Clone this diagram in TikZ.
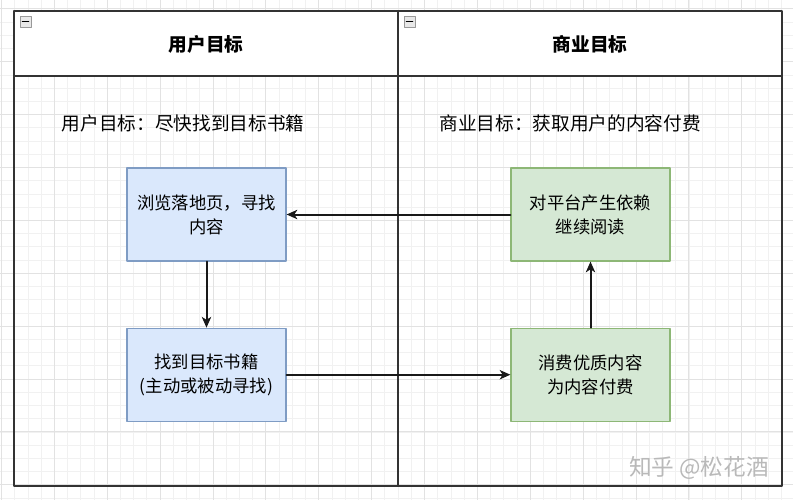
\documentclass[tikz,border=0pt]{standalone}
\usepackage{fontspec}
\setmainfont{Noto Sans CJK SC}
\usetikzlibrary{positioning, arrows.meta}
\definecolor{userfill}{HTML}{DAE8FC}
\definecolor{userline}{HTML}{7F9CC4}
\definecolor{bizfill}{HTML}{D5E8D4}
\definecolor{bizline}{HTML}{8DB776}
\definecolor{gridminor}{HTML}{F1F1F1}
\definecolor{gridmajor}{HTML}{E2E2E2}
\newcommand{\foldicon}{
  \draw[gray!80, fill = gray!18] (0, 0) rectangle (11, 11);
  \draw[black, line width = 1.2pt] (2.5, 5.5) -- (8.5, 5.5);}

\begin{document}
\begin{tikzpicture}[x = 0.75pt, y = -0.75pt, line cap = round, line join = round,
  goalbox/.style = {draw, line width = 0.9pt, minimum width = 119.25pt,
    minimum height = 69.75pt, align = center,
    font = \fontsize{13}{18}\selectfont},
  userbox/.style = {goalbox, fill = userfill, draw = userline},
  bizbox/.style = {goalbox, fill = bizfill, draw = bizline},
  flow/.style = {line width = 1.5pt, black!90,
    >={Stealth[length = 8pt, width = 7pt, inset = 2.2pt]}, ->}]
  \useasboundingbox (0, 0) rectangle (793, 500);

  % background grid
  \foreach \i in {0, ..., 61} {
    \draw[gridminor, line width = 0.5pt] ({1.4 + \i * 13.22}, 0) -- +(0, 500);}
  \foreach \j in {0, ..., 38} {
    \draw[gridminor, line width = 0.5pt] (0, {-4.4 + \j * 13.22}) -- +(793, 0);}
  \foreach \i in {0, ..., 15} {
    \draw[gridmajor, line width = 0.6pt] ({1.4 + \i * 52.88}, 0) -- +(0, 500);}
  \foreach \j in {0, ..., 9} {
    \draw[gridmajor, line width = 0.6pt] (0, {8.8 + \j * 52.88}) -- +(793, 0);}

  % swimlanes
  \fill[white] (14, 11) rectangle (782, 76);
  \draw[line width = 1.4pt, black!80] (14, 11) rectangle (782, 486);
  \draw[line width = 1.4pt, black!80] (14, 76) -- (782, 76);
  \draw[line width = 1.4pt, black!80] (398, 11) -- (398, 486);

  \begin{scope}[shift = {(20, 16)}]
    \foldicon
  \end{scope}
  \begin{scope}[shift = {(404, 16)}]
    \foldicon
  \end{scope}

  \node[font = \fontsize{14}{17}\selectfont\bfseries] (userhead) at (206, 44) {用户目标};
  \node[font = \fontsize{14}{17}\selectfont\bfseries] (bizhead) at (590, 44) {商业目标};

  \node[font = \fontsize{14}{17}\selectfont] (usergoal) at (183, 123)
    {用户目标：尽快找到目标书籍};
  \node[font = \fontsize{14}{17}\selectfont] (bizgoal) at (570, 123)
    {商业目标：获取用户的内容付费};

  % steps
  \node[userbox] (browse) at (206.5, 214.5) {浏览落地页，寻找\\内容};
  \node[userbox, below = 49.5pt of browse] (found) {找到目标书籍\\(主动或被动寻找)};
  \node[bizbox] (depend) at (590.5, 214.5) {对平台产生依赖\\继续阅读};
  \node[bizbox, below = 49.5pt of depend] (pay) {消费优质内容\\为内容付费};

  \draw[flow] (browse) -- (found);
  \draw[flow] (found) -- (pay);
  \draw[flow] (pay) -- (depend);
  \draw[flow] (depend) -- (browse);

  \node[text = gray!55, font = \fontsize{17}{20}\selectfont] (mark) at (699, 468)
    {知乎 @松花酒};
\end{tikzpicture}
\end{document}
